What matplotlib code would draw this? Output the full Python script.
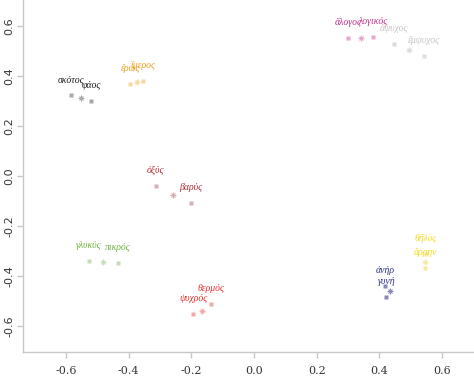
import numpy as np
import matplotlib
matplotlib.use("Agg")
import matplotlib.pyplot as plt

# word pairs: (label, x, y) for the two words and the pair centroid
words_a = ["σκότος", "ἔρως", "ὀξύς", "γλυκύς", "θερμός", "ἀνήρ", "θῆλυς", "ἄλογος", "ἄψυχος"]
words_b = ["φάος", "ἵμερος", "βαρύς", "πικρός", "ψυχρός", "γυνή", "ἄρρην", "λογικός", "ἔμψυχος"]
xa = [-0.584, -0.395, -0.313, -0.526, -0.136, 0.418, 0.549, 0.300, 0.447]
ya = [0.324, 0.368, -0.040, -0.340, -0.512, -0.440, -0.312, 0.552, 0.528]
xb = [-0.520, -0.354, -0.201, -0.434, -0.194, 0.422, 0.546, 0.380, 0.542]
yb = [0.300, 0.380, -0.108, -0.348, -0.552, -0.484, -0.368, 0.556, 0.480]
xc = [-0.552, -0.373, -0.258, -0.482, -0.166, 0.434, 0.546, 0.340, 0.494]
yc = [0.312, 0.376, -0.076, -0.344, -0.540, -0.460, -0.344, 0.552, 0.504]

text_col = ["#1a1a1a", "#f0a020", "#b02830", "#6db33f", "#e8302a", "#2c2c8c", "#f2dc1a", "#c0308c", "#c4c4c4"]
point_col = ["#a8a8a8", "#f5d9a0", "#d8b0b4", "#c8dcb8", "#f0a8a8", "#8888b8", "#f5eba0", "#e8a8cc", "#dcdcdc"]

ticks = [-0.6, -0.4, -0.2, 0.0, 0.2, 0.4, 0.6]
tick_labels = ["-0.6", "-0.4", "-0.2", "0.0", "0.2", "0.4", "0.6"]

fig = plt.figure(figsize=(4.74, 3.80), dpi=100)
ax = fig.add_axes([0.0485, 0.0737, 0.9515, 0.9263])

greek = ["Liberation Serif", "DejaVu Serif"]
for i in range(len(words_a)):
	ax.plot([xa[i], xb[i]], [ya[i], yb[i]], "s", ms=2.5, mec="none", color=point_col[i])
	ax.plot(xc[i], yc[i], "+", ms=5, mew=0.8, color=point_col[i])
	ax.plot(xc[i], yc[i], "x", ms=3.5, mew=0.8, color=point_col[i])
	for w, x, y in [(words_a[i], xa[i], ya[i]), (words_b[i], xb[i], yb[i])]:
		ax.annotate(w, (x, y), xytext=(0, 11), textcoords="offset points",
			ha="center", va="center", fontsize=7, style="italic",
			family=greek, color=text_col[i])

ax.set_xlim(-0.737, 0.702)
ax.set_ylim(-0.704, 0.704)
for s in ["top", "right"]:
	ax.spines[s].set_visible(False)
for s in ["left", "bottom"]:
	ax.spines[s].set_color("#c8c8c8")
	ax.spines[s].set_linewidth(1.0)

ax.set_xticks(ticks)
ax.set_xticklabels(tick_labels, family=["DejaVu Serif"], fontsize=8, color="#333333")
ax.set_yticks(ticks)
ax.set_yticklabels(tick_labels, rotation=90, va="center", fontsize=8, color="#333333")
ax.tick_params(axis="both", color="#c8c8c8", length=4, width=1.0)
ax.tick_params(axis="x", pad=6)
ax.tick_params(axis="y", pad=2)

plt.savefig("out.png", dpi=100)
